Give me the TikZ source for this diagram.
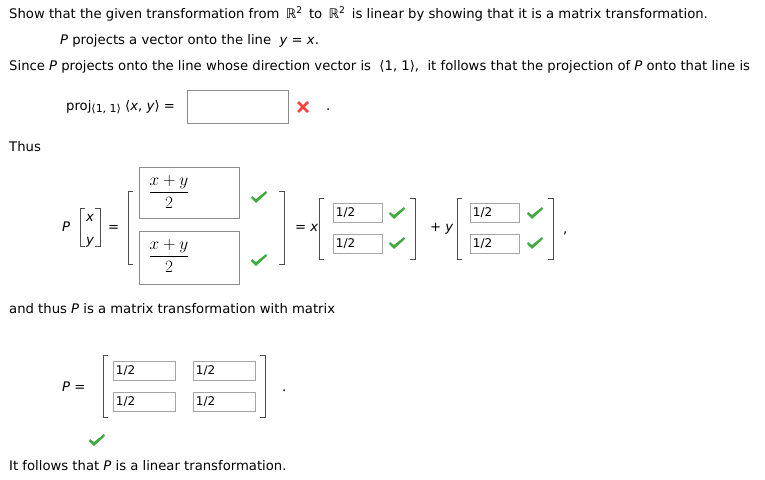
\documentclass[tikz,border=0pt]{standalone}
\usepackage{fontspec}
\setmainfont{DejaVu Sans}
\newfontfamily\mathserif{Liberation Serif}
\begin{document}
\begin{tikzpicture}[x=1pt,y=-1pt,
  txt/.style={anchor=base west,inner sep=0pt,font=\fontsize{13.2}{15}\selectfont},
  box/.style={draw=black!45,line width=0.8pt},
  ibox/.style={draw=black!35,line width=0.8pt,minimum width=49pt,minimum height=19pt,anchor=north west,inner sep=2pt,font=\fontsize{12}{13}\selectfont,text width=44pt,align=left},
  brk/.style={draw=black!70,line width=1pt},
  chk/.style={fill=green!55!black!75!white}]
\useasboundingbox (0,0) rectangle (765,479);
\newcommand\ck[2]{\fill[chk] (#1-7,#2-1) -- (#1-3,#2+2) -- (#1+7,#2-6) -- (#1+8,#2-4) -- (#1-3,#2+6) -- (#1-8,#2+1) -- cycle;}
\newcommand\lb[3]{\draw[brk] (#1+5,#2) -- (#1,#2) -- (#1,#3) -- (#1+5,#3);}
\newcommand\rb[3]{\draw[brk] (#1-5,#2) -- (#1,#2) -- (#1,#3) -- (#1-5,#3);}
\node[txt] (l1) at (9,18) {Show that the given transformation from \,ℝ\textsuperscript{2}\, to \,ℝ\textsuperscript{2}\, is linear by showing that it is a matrix transformation.};
\node[txt] (l2) at (60,44) {\textit{P} projects a vector onto the line \ \textit{y} = \textit{x}.};
\node[txt] (l3) at (9,70) {Since \textit{P} projects onto the line whose direction vector is \ ⟨1, 1⟩, \ it follows that the projection of \textit{P} onto that line is};
\node[txt] (pj) at (66,110) {proj\raisebox{-2pt}{\fontsize{11}{12}\selectfont⟨1, 1⟩} ⟨\textit{x}, \textit{y}⟩ =};
\draw[box] (187,90) rectangle (288,123);
\draw[red!75,line width=2.6pt] (298,102) -- (308,112) (308,102) -- (298,112);
\node[txt] (d1) at (326,110) {.};
\node[txt] (th) at (9,151) {Thus};
\node[txt] (P1) at (62,231) {\textit{P}};
\lb{80}{208}{246}\rb{100}{208}{246}
\node[txt] (x1) at (86,221) {\textit{x}};
\node[txt] (y1) at (86,244) {\textit{y}};
\node[txt] (e1) at (108,231) {=};
\lb{128}{191}{264}\rb{284}{191}{264}
\draw[box] (139,167) rectangle (239,218);
\draw[box] (139,231) rectangle (239,284);
\node[inner sep=0pt,font=\mathserif\fontsize{16}{18}\selectfont] (f1) at (169,192) {$\displaystyle\frac{x+y}{2}$};
\node[inner sep=0pt,font=\mathserif\fontsize{16}{18}\selectfont] (f2) at (169,256) {$\displaystyle\frac{x+y}{2}$};
\ck{259}{197}\ck{259}{260}
\node[txt] (e2) at (295,231) {= \textit{x}};
\lb{319}{198}{259}\rb{415}{198}{259}
\node[ibox] (a1) at (333,203) {1/2};
\node[ibox] (a2) at (333,234) {1/2};
\ck{397}{213}\ck{397}{243}
\node[txt] (e3) at (430,231) {+ \textit{y}};
\lb{457}{198}{259}\rb{553}{198}{259}
\node[ibox] (b1) at (470,203) {1/2};
\node[ibox] (b2) at (470,234) {1/2};
\ck{535}{213}\ck{535}{243}
\node[txt] (cm) at (563,233) {,};
\node[txt] (at) at (9,313) {and thus \textit{P} is a matrix transformation with matrix};
\node[txt] (P2) at (62,391) {\textit{P} =};
\lb{103}{355}{417}\rb{265}{355}{417}
\node[ibox,minimum width=62pt,text width=57pt] (c1) at (113,361) {1/2};
\node[ibox,minimum width=62pt,text width=57pt] (c2) at (193,361) {1/2};
\node[ibox,minimum width=62pt,text width=57pt] (c3) at (113,392) {1/2};
\node[ibox,minimum width=62pt,text width=57pt] (c4) at (193,392) {1/2};
\node[txt] (d2) at (282,391) {.};
\ck{97}{440}
\node[txt] (it) at (9,470) {It follows that \textit{P} is a linear transformation.};
\end{tikzpicture}
\end{document}
